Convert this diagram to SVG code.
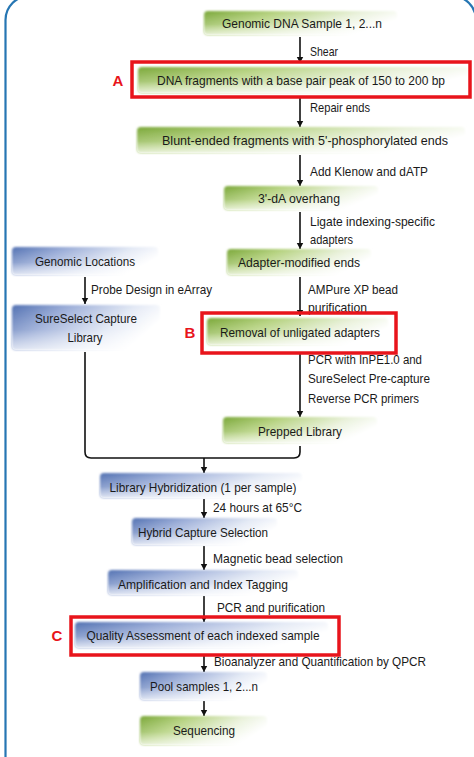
<svg xmlns="http://www.w3.org/2000/svg" width="474" height="757" viewBox="0 0 474 757">
<style>
.t{font-family:"Liberation Sans",Arial,sans-serif;font-size:13.5px;fill:#1a1a1a;text-anchor:middle}
.l{font-family:"Liberation Sans",Arial,sans-serif;font-size:13.5px;fill:#1a1a1a}
.sm{font-size:12.2px}
.c{stroke:#111;stroke-width:1.6;fill:none}
.red{fill:none;stroke:#e8141b;stroke-width:3.5}
.lab{font-family:"Liberation Sans",Arial,sans-serif;font-size:15px;font-weight:bold;fill:#e8141b;text-anchor:middle}
.g{fill:url(#gg)}
.b{fill:url(#bg)}
.sh{fill:url(#wv)}
</style>
<defs>
<linearGradient id="gg" x1="0" y1="0" x2="1" y2="0.35">
<stop offset="0" stop-color="#7aa738"/>
<stop offset="0.35" stop-color="#b5d27f"/>
<stop offset="0.75" stop-color="#eaf2dc"/>
<stop offset="1" stop-color="#ffffff"/>
</linearGradient>
<linearGradient id="bg" x1="0" y1="0" x2="1" y2="0.35">
<stop offset="0" stop-color="#5271b2"/>
<stop offset="0.35" stop-color="#9badd8"/>
<stop offset="0.75" stop-color="#e3e9f5"/>
<stop offset="1" stop-color="#ffffff"/>
</linearGradient>
<linearGradient id="wv" x1="0" y1="0" x2="0" y2="1">
<stop offset="0" stop-color="#ffffff" stop-opacity="0"/>
<stop offset="0.55" stop-color="#ffffff" stop-opacity="0.15"/>
<stop offset="1" stop-color="#ffffff" stop-opacity="0.7"/>
</linearGradient>
<filter id="blur" x="-5%" y="-20%" width="110%" height="140%"><feGaussianBlur stdDeviation="1.2"/></filter>
<marker id="ar" markerWidth="8" markerHeight="8" refX="6" refY="4" orient="auto" markerUnits="userSpaceOnUse">
<path d="M0,0.8 L6,4 L0,7.2 z" fill="#111"/>
</marker>
</defs>
<rect x="5.5" y="-4" width="470.5" height="800" rx="24" fill="#fff" stroke="#2676b3" stroke-width="2.2"/>

<g id="connectors">
<line class="c" x1="300" y1="37" x2="300" y2="63" marker-end="url(#ar)"/>
<line class="c" x1="300" y1="97" x2="300" y2="127" marker-end="url(#ar)"/>
<line class="c" x1="300" y1="155" x2="300" y2="186" marker-end="url(#ar)"/>
<line class="c" x1="300" y1="212" x2="300" y2="249" marker-end="url(#ar)"/>
<line class="c" x1="300" y1="277" x2="300" y2="316" marker-end="url(#ar)"/>
<line class="c" x1="300" y1="353" x2="300" y2="417" marker-end="url(#ar)"/>
<line class="c" x1="85" y1="277" x2="85" y2="304" marker-end="url(#ar)"/>
<path class="c" d="M85,352 V452 Q85,458 91,458 H294 Q300,458 300,452 V446"/>
<line class="c" x1="204" y1="458" x2="204" y2="473" marker-end="url(#ar)"/>
<line class="c" x1="204" y1="499" x2="204" y2="518" marker-end="url(#ar)"/>
<line class="c" x1="204" y1="546" x2="204" y2="570" marker-end="url(#ar)"/>
<line class="c" x1="204" y1="596" x2="204" y2="622" marker-end="url(#ar)"/>
<line class="c" x1="204" y1="655" x2="204" y2="672" marker-end="url(#ar)"/>
<line class="c" x1="204" y1="701" x2="204" y2="716" marker-end="url(#ar)"/>
<text class="l" x="310" y="56" textLength="28" lengthAdjust="spacingAndGlyphs">Shear</text>
<text class="l" x="310" y="112" textLength="60" lengthAdjust="spacingAndGlyphs">Repair ends</text>
<text class="l" x="310" y="176" textLength="118" lengthAdjust="spacingAndGlyphs">Add Klenow and dATP</text>
<text class="l" x="310" y="226" textLength="125" lengthAdjust="spacingAndGlyphs">Ligate indexing-specific</text>
<text class="l" x="310" y="244" textLength="43" lengthAdjust="spacingAndGlyphs">adapters</text>
<text class="l" x="91" y="294" textLength="121" lengthAdjust="spacingAndGlyphs">Probe Design in eArray</text>
<text class="l" x="308" y="294" textLength="90" lengthAdjust="spacingAndGlyphs">AMPure XP bead</text>
<text class="l" x="308" y="312" textLength="59" lengthAdjust="spacingAndGlyphs">purification</text>
<text class="l" x="308" y="364" textLength="114" lengthAdjust="spacingAndGlyphs">PCR with InPE1.0 and</text>
<text class="l" x="308" y="383" textLength="122" lengthAdjust="spacingAndGlyphs">SureSelect Pre-capture</text>
<text class="l" x="308" y="403" textLength="111" lengthAdjust="spacingAndGlyphs">Reverse PCR primers</text>
<text class="l" x="213" y="512" textLength="89" lengthAdjust="spacingAndGlyphs">24 hours at 65°C</text>
<text class="l" x="213" y="563" textLength="130" lengthAdjust="spacingAndGlyphs">Magnetic bead selection</text>
<text class="l" x="217" y="612" textLength="108" lengthAdjust="spacingAndGlyphs">PCR and purification</text>
<text class="l" x="214" y="666" textLength="212" lengthAdjust="spacingAndGlyphs">Bioanalyzer and Quantification by QPCR</text>
</g>

<g id="n1">
<rect class="g" x="204" y="11" width="193" height="24" rx="4" filter="url(#blur)"/>
<rect class="sh" x="204" y="11" width="193" height="24" rx="4"/>
<text class="t" x="302" y="28" textLength="160" lengthAdjust="spacingAndGlyphs">Genomic DNA Sample 1, 2...n</text>
</g>
<g id="n2">
<rect class="g" x="138" y="67" width="330" height="26" rx="4" filter="url(#blur)"/>
<rect class="sh" x="138" y="67" width="330" height="26" rx="4"/>
<text class="t sm" x="301" y="85" textLength="288" lengthAdjust="spacingAndGlyphs">DNA fragments with a base pair peak of 150 to 200 bp</text>
<rect class="red" x="132" y="62" width="338" height="35"/>
<text class="lab" x="118" y="86">A</text>
</g>
<g id="n3">
<rect class="g" x="137" y="127" width="328" height="26" rx="4" filter="url(#blur)"/>
<rect class="sh" x="137" y="127" width="328" height="26" rx="4"/>
<text class="t sm" x="305" y="145" textLength="286" lengthAdjust="spacingAndGlyphs">Blunt-ended fragments with 5'-phosphorylated ends</text>
</g>
<g id="n4">
<rect class="g" x="224" y="186" width="154" height="24" rx="4" filter="url(#blur)"/>
<rect class="sh" x="224" y="186" width="154" height="24" rx="4"/>
<text class="t" x="299" y="203" textLength="82" lengthAdjust="spacingAndGlyphs">3'-dA overhang</text>
</g>
<g id="n5">
<rect class="g" x="227" y="249" width="144" height="26" rx="4" filter="url(#blur)"/>
<rect class="sh" x="227" y="249" width="144" height="26" rx="4"/>
<text class="t" x="299" y="267" textLength="122" lengthAdjust="spacingAndGlyphs">Adapter-modified ends</text>
</g>
<g id="n6">
<rect class="g" x="207" y="318" width="181" height="27" rx="4" filter="url(#blur)"/>
<rect class="sh" x="207" y="318" width="181" height="27" rx="4"/>
<text class="t" x="300" y="337" textLength="160" lengthAdjust="spacingAndGlyphs">Removal of unligated adapters</text>
<rect class="red" x="202" y="313" width="194" height="40"/>
<text class="lab" x="190" y="338">B</text>
</g>
<g id="n7">
<rect class="b" x="12" y="247" width="146" height="28" rx="4" filter="url(#blur)"/>
<rect class="sh" x="12" y="247" width="146" height="28" rx="4"/>
<text class="t" x="85" y="266" textLength="100" lengthAdjust="spacingAndGlyphs">Genomic Locations</text>
</g>
<g id="n8">
<rect class="b" x="12" y="305" width="148" height="45" rx="4" filter="url(#blur)"/>
<rect class="sh" x="12" y="305" width="148" height="45" rx="4"/>
<text class="t" x="86" y="323" textLength="102" lengthAdjust="spacingAndGlyphs">SureSelect Capture</text>
<text class="t" x="85" y="342" textLength="35" lengthAdjust="spacingAndGlyphs">Library</text>
</g>
<g id="n9">
<rect class="g" x="223" y="417" width="154" height="26" rx="4" filter="url(#blur)"/>
<rect class="sh" x="223" y="417" width="154" height="26" rx="4"/>
<text class="t" x="300" y="436" textLength="84" lengthAdjust="spacingAndGlyphs">Prepped Library</text>
</g>
<g id="n10">
<rect class="b" x="100" y="473" width="202" height="25" rx="4" filter="url(#blur)"/>
<rect class="sh" x="100" y="473" width="202" height="25" rx="4"/>
<text class="t" x="203" y="492" textLength="187" lengthAdjust="spacingAndGlyphs">Library Hybridization (1 per sample)</text>
</g>
<g id="n11">
<rect class="b" x="132" y="518" width="145" height="27" rx="4" filter="url(#blur)"/>
<rect class="sh" x="132" y="518" width="145" height="27" rx="4"/>
<text class="t" x="203" y="537" textLength="130" lengthAdjust="spacingAndGlyphs">Hybrid Capture Selection</text>
</g>
<g id="n12">
<rect class="b" x="108" y="570" width="190" height="25" rx="4" filter="url(#blur)"/>
<rect class="sh" x="108" y="570" width="190" height="25" rx="4"/>
<text class="t" x="203" y="589" textLength="170" lengthAdjust="spacingAndGlyphs">Amplification and Index Tagging</text>
</g>
<g id="n13">
<rect class="b" x="75" y="622" width="253" height="26" rx="4" filter="url(#blur)"/>
<rect class="sh" x="75" y="622" width="253" height="26" rx="4"/>
<text class="t" x="203" y="640" textLength="233" lengthAdjust="spacingAndGlyphs">Quality Assessment of each indexed sample</text>
<rect class="red" x="71" y="617" width="268" height="38"/>
<text class="lab" x="57" y="641">C</text>
</g>
<g id="n14">
<rect class="b" x="140" y="672" width="127" height="28" rx="4" filter="url(#blur)"/>
<rect class="sh" x="140" y="672" width="127" height="28" rx="4"/>
<text class="t" x="204" y="691" textLength="108" lengthAdjust="spacingAndGlyphs">Pool samples 1, 2...n</text>
</g>
<g id="n15">
<rect class="g" x="140" y="716" width="127" height="29" rx="4" filter="url(#blur)"/>
<rect class="sh" x="140" y="716" width="127" height="29" rx="4"/>
<text class="t" x="204" y="735" textLength="62" lengthAdjust="spacingAndGlyphs">Sequencing</text>
</g>
</svg>
